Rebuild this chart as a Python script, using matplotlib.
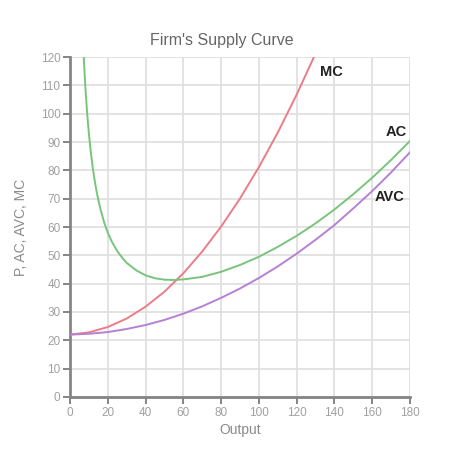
import matplotlib
matplotlib.use('Agg')
from matplotlib import pyplot as plt

plt.rcParams['font.family'] = ['Liberation Sans', 'DejaVu Sans']

# values
mc_q = [0, 10, 20, 30, 40, 50, 60, 70, 80, 90, 100, 110, 120, 130]
mc = [22.0, 22.8, 24.7, 27.7, 31.9, 37.2, 43.7, 51.4, 60.2, 70.1, 81.2, 93.4, 106.8, 121.3]

avc_q = [0, 10, 20, 30, 40, 50, 60, 70, 80, 90, 100, 110, 120, 130, 140, 150, 160, 170, 180]
avc = [22.0, 22.3, 22.9, 24.0, 25.4, 27.2, 29.4, 32.0, 35.0, 38.3, 42.0, 46.1, 50.6, 55.5,
       60.7, 66.6, 72.7, 79.3, 86.4]

ac_q = [6, 7, 8, 9, 10, 11, 12, 13, 14, 15, 16, 18, 20, 22, 25, 28, 30, 35, 40, 45, 50,
        55, 60, 70, 80, 90, 100, 110, 120, 130, 140, 150, 160, 170, 180]
ac = [138.9, 122.2, 109.7, 100.0, 92.3, 86.0, 80.7, 76.3, 72.5, 69.3, 66.4, 61.6, 57.9,
      54.9, 51.4, 48.8, 47.3, 44.7, 42.9, 41.9, 41.4, 41.3, 41.5, 42.4, 44.2, 46.6, 49.5,
      53.0, 56.9, 61.3, 66.2, 71.6, 77.4, 83.7, 90.4]

x_ticks = list(range(0, 181, 20))
y_ticks = list(range(0, 121, 10))

fig = plt.figure(figsize=(4.5, 4.5), dpi=100)
ax = fig.add_axes([0.156, 0.118, 0.755, 0.755])

ax.plot(mc_q, mc, color='#ec7c86', linewidth=1.4, zorder=3)
ax.plot(ac_q, ac, color='#79c47c', linewidth=1.4, zorder=3)
ax.plot(avc_q, avc, color='#b680d4', linewidth=1.4, zorder=3)

ax.set_xlim(0, 180)
ax.set_ylim(0, 120)
ax.set_xticks(x_ticks)
ax.set_yticks(y_ticks)
ax.grid(color='#e0e0e0', linewidth=1.3, zorder=0)
ax.set_axisbelow(True)

for side in ['top', 'right']:
    ax.spines[side].set_visible(False)
for side in ['left', 'bottom']:
    ax.spines[side].set_color('#858585')
    ax.spines[side].set_linewidth(2.0)
ax.tick_params(axis='both', colors='#858585', labelcolor='#a0a0a0',
               labelsize=8.5, length=5, width=1.4, pad=2)

# curve labels
ax.text(138.5, 114.9, 'MC', fontsize=10.5, fontweight='bold', color='#222222',
        ha='center', va='center')
ax.text(173, 93.7, 'AC', fontsize=10.5, fontweight='bold', color='#222222',
        ha='center', va='center')
ax.text(169.4, 70.7, 'AVC', fontsize=10.5, fontweight='bold', color='#222222',
        ha='center', va='center')

ax.set_xlabel('Output', fontsize=10, color='#8a8a8a', labelpad=3)
ax.set_ylabel('P, AC, AVC, MC', fontsize=10, color='#8a8a8a', labelpad=9)
fig.text(0.493, 0.911, "Firm's Supply Curve", fontsize=11.5, color='#666666',
         ha='center', va='center')

fig.savefig('out.png', dpi=100)
